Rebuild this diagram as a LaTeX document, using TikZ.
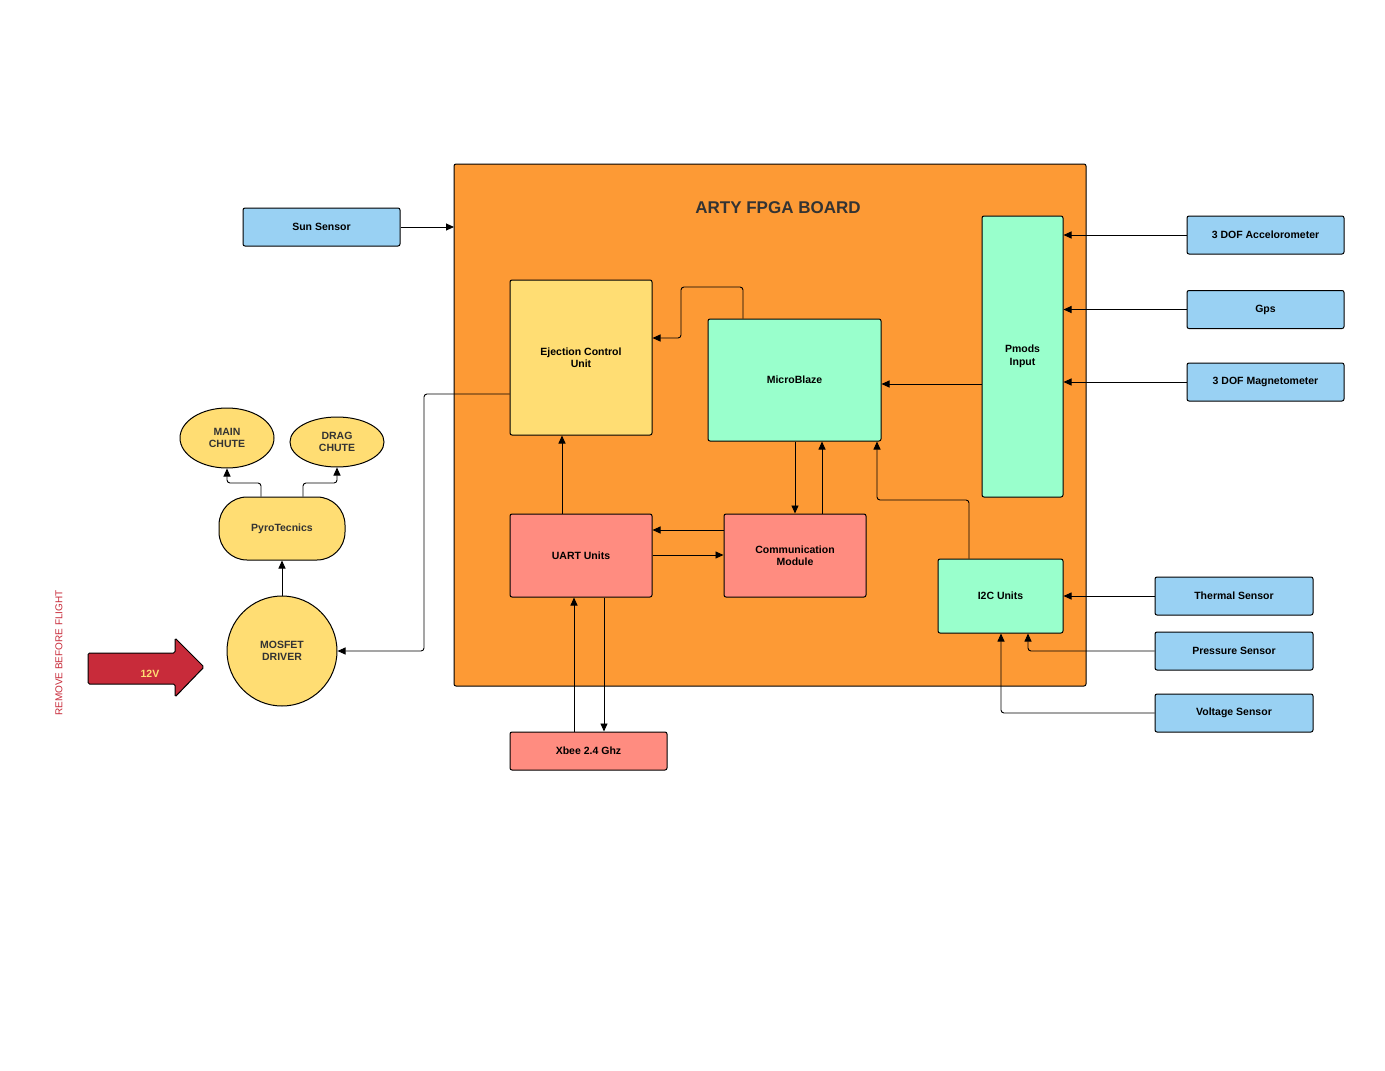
\documentclass[tikz,border=0pt]{standalone}
\usepackage{fontspec}
\setmainfont{Liberation Sans}
\usetikzlibrary{arrows.meta,shapes.geometric}
\definecolor{board}{HTML}{FD9A35}
\definecolor{blu}{HTML}{99D1F3}
\definecolor{yel}{HTML}{FFDD73}
\definecolor{grn}{HTML}{99FFCC}
\definecolor{sal}{HTML}{FF8C80}
\definecolor{red12}{HTML}{C82B3A}
\definecolor{dk}{HTML}{333333}
\begin{document}
\begin{tikzpicture}[x=1pt,y=-1pt,
  box/.style={draw=black,line width=1pt,rounded corners=2pt,align=center,font=\bfseries\fontsize{10.5}{12.5}\selectfont},
  con/.style={line width=0.9pt,-{Triangle[length=8pt,width=7pt]},rounded corners=3pt}]
\useasboundingbox (0,0) rectangle (1385,1071);
\fill[white] (0,0) rectangle (1385,1071);
% board
\draw[fill=board,line width=1pt,rounded corners=2pt] (454,164) rectangle (1086,686);
\node (board) at (454,227) {};
\node[font=\bfseries\fontsize{17}{20}\selectfont,text=dk] (title) at (778,208) {ARTY FPGA BOARD};
\newcommand{\bx}[5]{\node[box,fill=#2,minimum width=#4pt,minimum height=#5pt,inner sep=0pt] (#1) at #3 {};}
% boxes
\node[box,fill=blu,minimum width=157pt,minimum height=38pt] (sun) at (321.5,227) {Sun Sensor};
\node[box,fill=yel,minimum width=142pt,minimum height=155pt] (ecu) at (581,357.5) {Ejection Control\\Unit};
\node[box,fill=grn,minimum width=173pt,minimum height=122pt] (mb) at (794.5,380) {MicroBlaze};
\node[box,fill=grn,minimum width=81pt,minimum height=281pt] (pm) at (1022.5,356.5) {Pmods\\Input};
\node[box,fill=sal,minimum width=142pt,minimum height=83pt] (uart) at (581,555.5) {UART Units};
\node[box,fill=sal,minimum width=142pt,minimum height=83pt] (comm) at (795,555.5) {Communication\\Module};
\node[box,fill=grn,minimum width=125pt,minimum height=74pt] (i2c) at (1000.5,596) {I2C Units};
\node[box,fill=sal,minimum width=157pt,minimum height=38pt] (xbee) at (588.5,751) {Xbee 2.4 Ghz};
\node[box,fill=blu,minimum width=157pt,minimum height=38pt] (acc) at (1265.5,235) {3 DOF Accelorometer};
\node[box,fill=blu,minimum width=157pt,minimum height=38pt] (gps) at (1265.5,309.5) {Gps};
\node[box,fill=blu,minimum width=157pt,minimum height=38pt] (mag) at (1265.5,382) {3 DOF Magnetometer};
\node[box,fill=blu,minimum width=158pt,minimum height=38pt] (th) at (1234,596) {Thermal Sensor};
\node[box,fill=blu,minimum width=158pt,minimum height=38pt] (pr) at (1234,651) {Pressure Sensor};
\node[box,fill=blu,minimum width=158pt,minimum height=38pt] (vo) at (1234,713) {Voltage Sensor};
% left side
\node[box,ellipse,fill=yel,minimum width=94pt,minimum height=60pt,inner sep=0pt,text=dk] (main) at (227,438) {MAIN\\CHUTE};
\node[box,ellipse,fill=yel,minimum width=94pt,minimum height=50pt,inner sep=0pt,text=dk] (drag) at (337,442) {DRAG\\CHUTE};
\node[box,fill=yel,rounded corners=28pt,minimum width=126pt,minimum height=63pt,text=dk] (pyro) at (282,528.5) {PyroTecnics};
\node[box,circle,fill=yel,minimum size=110pt,inner sep=0pt,text=dk] (mos) at (282,651) {MOSFET\\DRIVER};
\draw[fill=red12,line width=1pt,rounded corners=1.5pt] (88,653)--(175,653)--(175,638)--(204,667)--(175,697)--(175,684)--(88,684)--cycle;
\node[font=\bfseries\fontsize{10.5}{12}\selectfont,text=yel] (v12) at (150,674) {12V};
\node[rotate=90,font=\fontsize{10}{12}\selectfont,text=red12] (rbf) at (59,653) {REMOVE BEFORE FLIGHT};
% connectors
\draw[con] (sun.east) -- (board.center);
\draw[con] (acc.west) -- (pm.east |- acc.west);
\draw[con] (gps.west) -- (pm.east |- gps.west);
\draw[con] (mag.west) -- (pm.east |- mag.west);
\draw[con] (pm.west |- 0,384) -- (mb.east |- 0,384);
\draw[con] (mb.north -| 743,0) -- (743,287) -- (681,287) -- (681,338) -- (ecu.east |- 0,338);
\draw[con] (ecu.west |- 0,394) -- (424,394) -- (424,651) -- (mos.east);
\draw[con] (uart.north -| 562,0) -- (ecu.south -| 562,0);
\draw[con] (mb.south -| 795,0) -- (comm.north -| 795,0);
\draw[con] (comm.north -| 822,0) -- (mb.south -| 822,0);
\draw[con] (i2c.north -| 969,0) -- (969,500) -- (877,500) -- (mb.south -| 877,0);
\draw[con] (comm.west |- 0,530) -- (uart.east |- 0,530);
\draw[con] (uart.east |- 0,555) -- (comm.west |- 0,555);
\draw[con] (xbee.north -| 574,0) -- (uart.south -| 574,0);
\draw[con] (uart.south -| 604,0) -- (xbee.north -| 604,0);
\draw[con] (th.west) -- (i2c.east |- th.west);
\draw[con] (pr.west) -- (1028,651) -- (i2c.south -| 1028,0);
\draw[con] (vo.west) -- (1001,713) -- (i2c.south -| 1001,0);
\draw[con] (mos.north) -- (pyro.south);
\draw[con] (pyro.north -| 261,0) -- (261,483) -- (227,483) -- (main.south);
\draw[con] (pyro.north -| 303,0) -- (303,483) -- (337,483) -- (drag.south);
\end{tikzpicture}
\end{document}
